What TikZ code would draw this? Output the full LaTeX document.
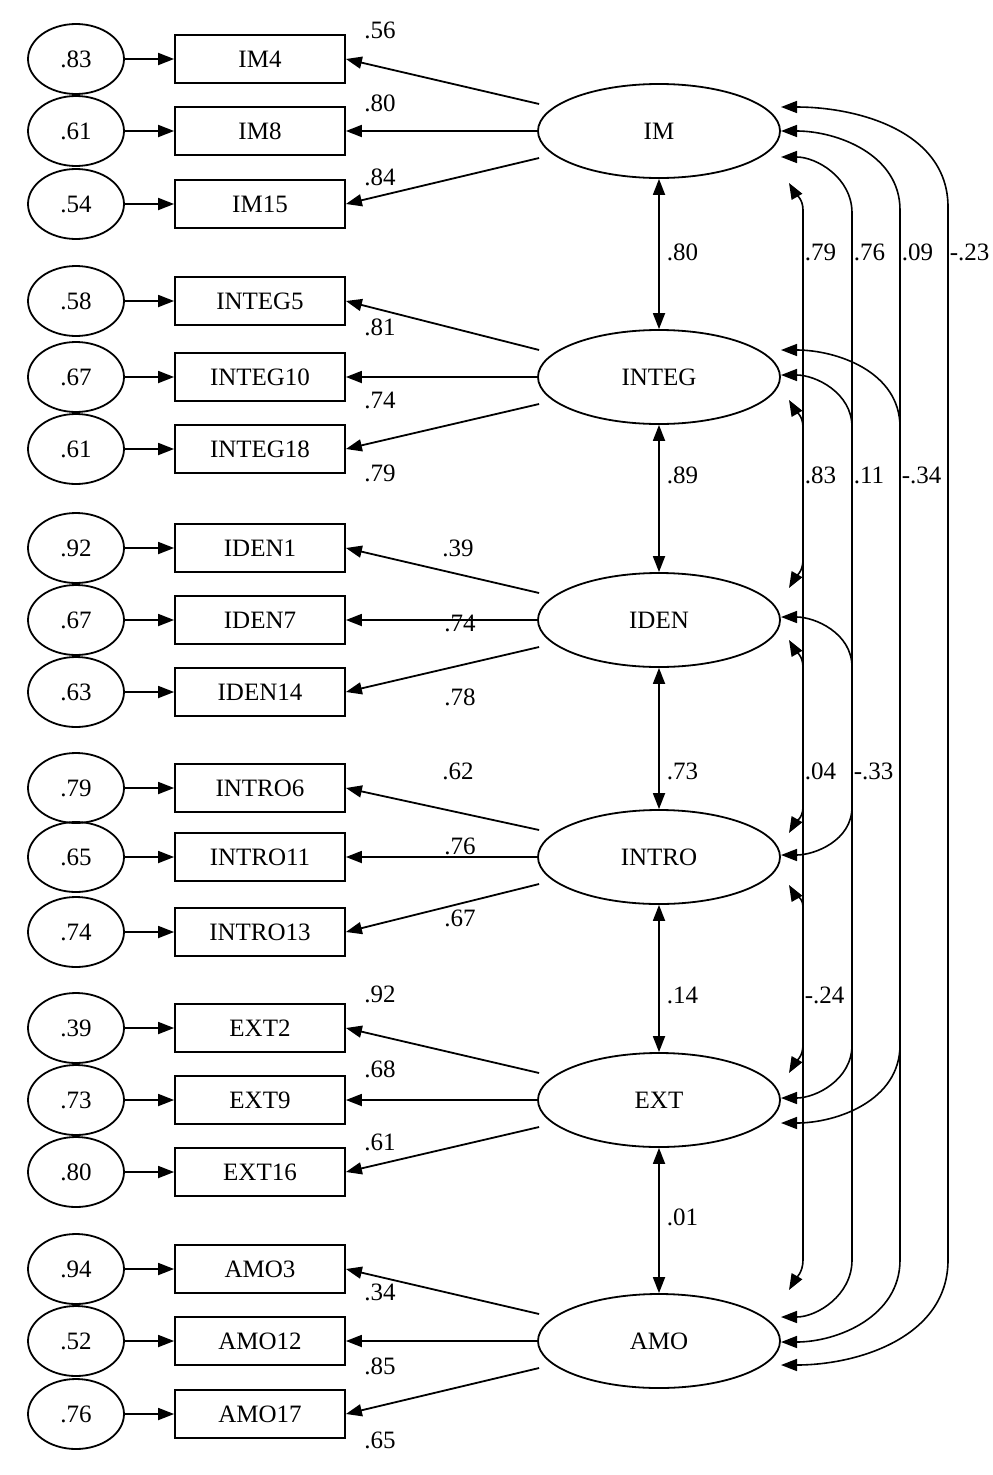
\documentclass[tikz,border=0pt]{standalone}
\usepackage{fontspec}
\setmainfont{Liberation Serif}
\usetikzlibrary{arrows.meta,shapes.geometric,calc}
\begin{document}
\begin{tikzpicture}[x=1pt,y=1pt,line width=1.8pt,
  font=\fontsize{25}{28}\selectfont,
  tip/.tip={Triangle[length=16pt,width=12pt]},
  lat/.style={draw,ellipse,minimum width=242,minimum height=94,inner sep=0},
  obs/.style={draw,rectangle,minimum width=170,minimum height=48,inner sep=0},
  err/.style={draw,ellipse,minimum width=96,minimum height=70,inner sep=0},
  arr/.style={-tip},
  dbl/.style={tip-tip},
  cov/.style={tip-tip,line width=1.6pt},
  lab/.style={inner sep=0}]
\useasboundingbox (0,0) rectangle (993,-1475);
% latent factors
\foreach \n/\y in {IM/131,INTEG/377,IDEN/620,INTRO/857,EXT/1100,AMO/1341}
  \node[lat] (\n) at (659,-\y) {\n};
% indicators with errors
\foreach \n/\y/\e in {IM4/59/.83,IM8/131/.61,IM15/204/.54,
  INTEG5/301/.58,INTEG10/377/.67,INTEG18/449/.61,
  IDEN1/548/.92,IDEN7/620/.67,IDEN14/692/.63,
  INTRO6/788/.79,INTRO11/857/.65,INTRO13/932/.74,
  EXT2/1028/.39,EXT9/1100/.73,EXT16/1172/.80,
  AMO3/1269/.94,AMO12/1341/.52,AMO17/1414/.76}{
  \node[obs] (\n) at (260,-\y) {\n};
  \node[err] (e\n) at (76,-\y) {\e};
  \draw[arr] (e\n) -- (\n);
}
% loadings
\foreach \f/\a/\b/\c in {IM/IM4/IM8/IM15,INTEG/INTEG5/INTEG10/INTEG18,
  IDEN/IDEN1/IDEN7/IDEN14,INTRO/INTRO6/INTRO11/INTRO13,
  EXT/EXT2/EXT9/EXT16,AMO/AMO3/AMO12/AMO17}{
  \draw[arr] ($(\f.west)+(2,27)$) -- (\a.east);
  \draw[arr] (\f.west) -- (\b.east);
  \draw[arr] ($(\f.west)+(2,-27)$) -- (\c.east);
}
\foreach \t/\x/\y in {.56/380/30,.80/380/103,.84/380/177,
  .81/380/327,.74/380/400,.79/380/473,
  .39/458/548,.74/460/623,.78/460/697,
  .62/458/771,.76/460/846,.67/460/918,
  .92/380/994,.68/380/1069,.61/380/1142,
  .34/380/1292,.85/380/1366,.65/380/1440}
  \node[lab] at (\x,-\y) {\t};
% adjacent correlations
\draw[dbl] (IM) -- (INTEG);
\draw[dbl] (INTEG) -- (IDEN);
\draw[dbl] (IDEN) -- (INTRO);
\draw[dbl] (INTRO) -- (EXT);
\draw[dbl] (EXT) -- (AMO);
\foreach \t/\y in {.80/252,.89/475,.73/771,.14/995,.01/1217}
  \node[lab,anchor=west] at (666,-\y) {\t};
% lag 2
\draw[cov] (789,-183) to[out=-60,in=90] (803,-210) -- (803,-560) to[out=-90,in=60] (789,-588);
\draw[cov] (789,-400) to[out=-60,in=90] (803,-427) -- (803,-807) to[out=-90,in=60] (789,-833);
\draw[cov] (789,-640) to[out=-60,in=90] (803,-667) -- (803,-1045) to[out=-90,in=60] (789,-1073);
\draw[cov] (789,-885) to[out=-60,in=90] (803,-907) -- (803,-1260) to[out=-90,in=60] (789,-1290);
% lag 3
\draw[cov] (781,-157) to[out=0,in=90] (852,-213) -- (852,-807) to[out=-90,in=0] (781,-855);
\draw[cov] (781,-375) to[out=0,in=90] (852,-427) -- (852,-1045) to[out=-90,in=0] (781,-1098);
\draw[cov] (781,-617) to[out=0,in=90] (852,-667) -- (852,-1260) to[out=-90,in=0] (781,-1317);
% lag 4
\draw[cov] (781,-131) to[out=0,in=90] (900,-210) -- (900,-1045) to[out=-90,in=0] (781,-1123);
\draw[cov] (781,-350) to[out=0,in=90] (900,-427) -- (900,-1260) to[out=-90,in=0] (781,-1342);
% lag 5
\draw[cov] (781,-107) to[out=0,in=90] (948,-207) -- (948,-1260) to[out=-90,in=0] (781,-1365);
\foreach \t/\x/\y in {.79/803/252,.76/852/252,.09/900/252,-.23/948/252,
  .83/803/475,.11/852/475,-.34/900/475,
  .04/803/771,-.33/852/771,-.24/803/995}
  \node[lab,anchor=west,fill=white] at (\x+1,-\y) {\t};
\end{tikzpicture}
\end{document}
